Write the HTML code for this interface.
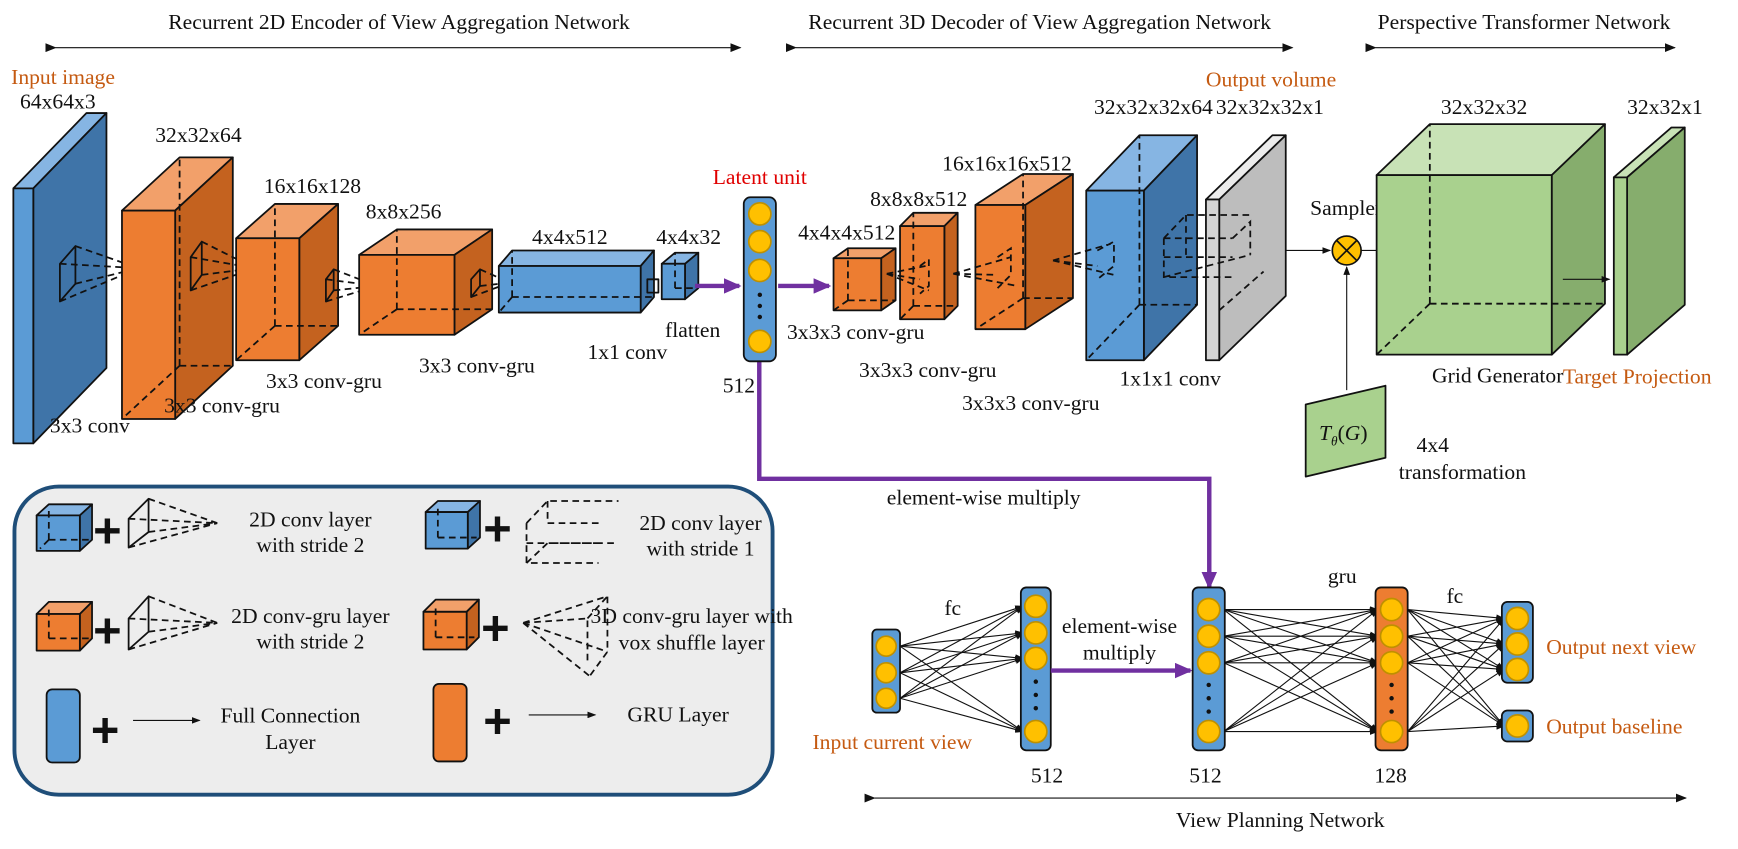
<!DOCTYPE html>
<html><head><meta charset="utf-8"><style>
html,body{margin:0;padding:0;background:#fff;}
svg{display:block;}
text{font-family:"Liberation Serif",serif;font-size:19.5px;fill:#111;}
.or{fill:#c55a11;}
.pl{font-family:"Liberation Sans",sans-serif;font-size:44px;font-weight:bold;}
.bf{fill:#5b9bd5}.bt{fill:#86b5e3}.bs{fill:#3f74a8}
.of{fill:#ed7d31}.ot{fill:#f2a06a}.os{fill:#c4621f}
.gf{fill:#a9d18e}.gt{fill:#c8e2b6}.gs{fill:#86ad6d}
.cf{fill:#d4d4d4}.ct{fill:#ececec}.cs{fill:#bdbdbd}
.ed{stroke:#111;stroke-width:1.6;stroke-linejoin:round}
.dh{stroke:#111;stroke-width:1.6;stroke-dasharray:6 4;fill:none}
.ln{stroke:#111;stroke-width:1;fill:none}
.nd{fill:#ffc000;stroke:#bf9000;stroke-width:1.5}
</style></head><body>
<svg width="1738" height="849" viewBox="0 0 1568 766" xmlns="http://www.w3.org/2000/svg">
<defs>
<marker id="ah" markerWidth="10" markerHeight="8" refX="9" refY="4" orient="auto" markerUnits="userSpaceOnUse"><path d="M0,0 L10,4 L0,8 z" fill="#111"/></marker>
<marker id="ap" markerWidth="16" markerHeight="14" refX="14" refY="7" orient="auto" markerUnits="userSpaceOnUse"><path d="M0,0 L16,7 L0,14 z" fill="#7030a0"/></marker>
<marker id="as" markerWidth="8" markerHeight="6" refX="7" refY="3" orient="auto" markerUnits="userSpaceOnUse"><path d="M0,0 L8,3 L0,6 z" fill="#111"/></marker>
</defs>

<text x="360" y="26" text-anchor="middle">Recurrent 2D Encoder of View Aggregation Network</text>
<line x1="50" y1="43" x2="668" y2="43" class="ln" stroke-width="2" marker-start="url(#ah)" marker-end="url(#ah)"/>
<text x="938" y="26" text-anchor="middle">Recurrent 3D Decoder of View Aggregation Network</text>
<line x1="718" y1="43" x2="1166" y2="43" class="ln" stroke-width="2" marker-start="url(#ah)" marker-end="url(#ah)"/>
<text x="1375" y="26" text-anchor="middle">Perspective Transformer Network</text>
<line x1="1241" y1="43" x2="1511" y2="43" class="ln" stroke-width="2" marker-start="url(#ah)" marker-end="url(#ah)"/>

<text x="10" y="76" class="or">Input image</text>
<text x="18" y="98">64x64x3</text>
<polygon class="bt ed" points="12,170 78,102 96,102 30,170"/>
<polygon class="bs ed" points="30,170 96,102 96,332 30,400"/>
<rect x="12" y="170" width="18" height="230" class="bf ed"/>
<polygon points="54,238 68,222 68,256 54,272" fill="none" class="ed"/>
<path d="M68,222 L125,242 M68,256 L125,242 M54,272 L125,242 M54,238 L125,242" class="dh"/>
<line x1="110" y1="242" x2="125" y2="242" class="ln" marker-end="url(#as)"/>

<text x="140" y="128">32x32x64</text>
<polygon class="ot ed" points="110,190 162,142 210,142 158,190"/>
<polygon class="os ed" points="158,190 210,142 210,330 158,378"/>
<rect x="110" y="190" width="48" height="188" class="of ed"/>
<path d="M162,330 L162,142 M162,330 L210,330 M162,330 L110,378" class="dh"/>
<polygon points="172,232 182,218 182,248 172,262" fill="none" class="ed"/>
<path d="M182,218 L230,242 M182,248 L230,242 M172,262 L230,242 M172,232 L230,242" class="dh"/>

<text x="238" y="174">16x16x128</text>
<polygon class="ot ed" points="213,215 248,184 305,184 270,215"/>
<polygon class="os ed" points="270,215 305,184 305,294 270,325"/>
<rect x="213" y="215" width="57" height="110" class="of ed"/>
<path d="M248,294 L248,184 M248,294 L305,294 M248,294 L213,325" class="dh"/>
<polygon points="294,252 301,243 301,262 294,272" fill="none" class="ed"/>
<path d="M301,243 L340,258 M301,262 L340,258 M294,272 L340,258 M294,252 L340,258" class="dh"/>

<text x="330" y="197">8x8x256</text>
<polygon class="ot ed" points="324,230 358,207 444,207 410,230"/>
<polygon class="os ed" points="410,230 444,207 444,279 410,302"/>
<rect x="324" y="230" width="86" height="72" class="of ed"/>
<path d="M358,279 L358,207 M358,279 L444,279 M358,279 L324,302" class="dh"/>
<polygon points="425,252 433,243 433,258 425,268" fill="none" class="ed"/>
<path d="M433,243 L460,255 M433,258 L460,255 M425,268 L460,255" class="dh"/>

<text x="480" y="220">4x4x512</text>
<polygon class="bt ed" points="450,240 462,226 590,226 578,240"/>
<polygon class="bs ed" points="578,240 590,226 590,268 578,282"/>
<rect x="450" y="240" width="128" height="42" class="bf ed"/>
<path d="M462,268 L462,226 M462,268 L590,268 M462,268 L450,282" class="dh"/>
<rect x="584" y="252" width="10" height="12" fill="none" class="ed"/>

<text x="592" y="220">4x4x32</text>
<polygon class="bt ed" points="597,238 609,228 630,228 618,238"/>
<polygon class="bs ed" points="618,238 630,228 630,260 618,270"/>
<rect x="597" y="238" width="21" height="32" class="bf ed"/>
<path d="M609,260 L609,228 M609,260 L630,260" class="dh"/>

<text x="600" y="304">flatten</text>
<text x="530" y="324">1x1 conv</text>
<text x="378" y="336">3x3 conv-gru</text>
<text x="240" y="350">3x3 conv-gru</text>
<text x="148" y="372">3x3 conv-gru</text>
<text x="45" y="390">3x3 conv</text>

<line x1="627" y1="258" x2="667" y2="258" stroke="#7030a0" stroke-width="4" marker-end="url(#ap)"/>
<line x1="702" y1="258" x2="748" y2="258" stroke="#7030a0" stroke-width="4" marker-end="url(#ap)"/>
<polyline points="685,325 685,432 1091,432 1091,530" fill="none" stroke="#7030a0" stroke-width="4" marker-end="url(#ap)"/>

<text x="643" y="166" style="fill:#e00000">Latent unit</text>
<rect x="671" y="178" width="29" height="148" rx="6" class="bf ed"/>
<circle cx="685.5" cy="193" r="10" class="nd"/>
<circle cx="685.5" cy="218" r="10" class="nd"/>
<circle cx="685.5" cy="244" r="10" class="nd"/>
<circle cx="685.5" cy="266" r="2" fill="#111"/><circle cx="685.5" cy="276" r="2" fill="#111"/><circle cx="685.5" cy="286" r="2" fill="#111"/>
<circle cx="685.5" cy="308" r="10" class="nd"/>
<text x="652" y="354">512</text>

<text x="720" y="216">4x4x4x512</text>
<polygon class="ot ed" points="752,233 765,224 808,224 795,233"/>
<polygon class="os ed" points="795,233 808,224 808,271 795,280"/>
<rect x="752" y="233" width="43" height="47" class="of ed"/>
<path d="M765,271 L765,224 M765,271 L808,271 M765,271 L752,280" class="dh"/>

<text x="785" y="186">8x8x8x512</text>
<polygon class="ot ed" points="812,204 824,192 864,192 852,204"/>
<polygon class="os ed" points="852,204 864,192 864,276 852,288"/>
<rect x="812" y="204" width="40" height="84" class="of ed"/>
<path d="M824,276 L824,192 M824,276 L864,276 M824,276 L812,288" class="dh"/>
<path d="M800,247 L835,240 M800,247 L838,262 M800,247 L830,252 M830,240 L838,234 L838,258 L830,265" class="dh"/>

<text x="850" y="154">16x16x16x512</text>
<polygon class="ot ed" points="880,185 923,157 968,157 925,185"/>
<polygon class="os ed" points="925,185 968,157 968,269 925,297"/>
<rect x="880" y="185" width="45" height="112" class="of ed"/>
<path d="M923,269 L923,157 M923,269 L968,269 M923,269 L880,297" class="dh"/>
<path d="M860,247 L912,232 M860,247 L918,258 M860,247 L900,248 M900,232 L912,224 L912,248 L900,260" class="dh"/>

<text x="987" y="103">32x32x32x64</text>
<polygon class="bt ed" points="980,172 1028,122 1080,122 1032,172"/>
<polygon class="bs ed" points="1032,172 1080,122 1080,275 1032,325"/>
<rect x="980" y="172" width="52" height="153" class="bf ed"/>
<path d="M1028,275 L1028,122 M1028,275 L1080,275 M1028,275 L980,325" class="dh"/>
<path d="M950,235 L1002,220 M950,235 L1005,248 M950,235 L990,240 M990,226 L1005,218 L1005,240 L990,252" class="dh"/>

<text x="1088" y="78" class="or">Output volume</text>
<text x="1097" y="103">32x32x32x1</text>
<polygon class="ct ed" points="1088,180 1148,122 1160,122 1100,180"/>
<polygon class="cs ed" points="1100,180 1160,122 1160,267 1100,325"/>
<rect x="1088" y="180" width="12" height="145" class="cf ed"/>
<path d="M1050,215 L1070,194 L1128,194 M1050,215 L1050,250 L1112,250 M1050,232 L1112,232 M1070,194 L1070,232 M1050,250 L1128,230 M1112,215 L1128,200 L1128,230 M1050,215 L1112,215" class="dh"/>
<path d="M1100,280 L1140,245" class="dh"/>
<text x="1010" y="348">1x1x1 conv</text>
<text x="775" y="340">3x3x3 conv-gru</text>
<text x="710" y="306">3x3x3 conv-gru</text>
<text x="868" y="370">3x3x3 conv-gru</text>

<text x="1182" y="194">Sampler</text>
<line x1="1160" y1="226" x2="1200" y2="226" class="ln" marker-end="url(#as)"/>
<circle cx="1215" cy="226" r="13" fill="#ffc000" stroke="#111" stroke-width="1.5"/>
<path d="M1206,217 L1224,235 M1224,217 L1206,235" stroke="#111" stroke-width="1.5"/>
<line x1="1228" y1="226" x2="1258" y2="226" class="ln" marker-end="url(#as)"/>
<line x1="1215" y1="352" x2="1215" y2="241" class="ln" marker-end="url(#as)"/>
<polygon points="1178,365 1250,348 1250,413 1178,430" class="gf ed" stroke-width="1"/>
<text x="1190" y="397" font-style="italic">T<tspan style="font-size:12px" dy="5">θ</tspan><tspan dy="-5" font-style="normal">(</tspan>G<tspan font-style="normal">)</tspan></text>
<text x="1278" y="408">4x4</text>
<text x="1262" y="432">transformation</text>

<text x="1300" y="103">32x32x32</text>
<polygon class="gt ed" points="1242,158 1290,112 1448,112 1400,158"/>
<polygon class="gs ed" points="1400,158 1448,112 1448,274 1400,320"/>
<rect x="1242" y="158" width="158" height="162" class="gf ed"/>
<path d="M1290,274 L1290,112 M1290,274 L1448,274 M1290,274 L1242,320" class="dh"/>
<line x1="1410" y1="252" x2="1452" y2="252" class="ln" marker-end="url(#as)"/>
<text x="1468" y="103">32x32x1</text>
<polygon class="gt ed" points="1456,160 1508,115 1520,115 1468,160"/>
<polygon class="gs ed" points="1468,160 1520,115 1520,275 1468,320"/>
<rect x="1456" y="160" width="12" height="160" class="gf ed"/>
<text x="1292" y="345">Grid Generator</text>
<text x="1410" y="346" class="or">Target Projection</text>

<rect x="13" y="439" width="684" height="278" rx="40" fill="#ededed" stroke="#1f4e79" stroke-width="3.5"/>
<polygon class="bt ed" points="33,465 44,455 83,455 72,465"/><polygon class="bs ed" points="72,465 83,455 83,487 72,497"/><rect x="33" y="465" width="39" height="32" class="bf ed"/>
<path d="M44,487 L44,458 M44,487 L80,487 M44,487 L36,495" class="dh"/>
<text x="84" y="494" class="pl">+</text>
<polygon points="116,468 134,450 134,480 116,494" fill="none" class="ed"/>
<path d="M134,450 L196,472 M134,480 L196,472 M116,494 L196,472 M116,468 L196,472" class="dh"/>
<text x="280" y="475" text-anchor="middle">2D conv layer</text>
<text x="280" y="498" text-anchor="middle">with stride 2</text>
<polygon class="bt ed" points="384,462 395,452 433,452 422,462"/><polygon class="bs ed" points="422,462 433,452 433,485 422,495"/><rect x="384" y="462" width="38" height="33" class="bf ed"/>
<path d="M395,485 L395,455 M395,485 L430,485" class="dh"/>
<text x="436" y="492" class="pl">+</text>
<path d="M475,472 L494,452 L558,452 M475,472 L475,508 L540,508 M475,490 L541,490 M494,452 L494,472 L541,472 M475,508 L494,490 L556,490" class="dh"/>
<text x="632" y="478" text-anchor="middle">2D conv layer</text>
<text x="632" y="501" text-anchor="middle">with stride 1</text>
<polygon class="ot ed" points="33,554 44,543 83,543 72,554"/><polygon class="os ed" points="72,554 83,543 83,576 72,587"/><rect x="33" y="554" width="39" height="33" class="of ed"/>
<path d="M44,576 L44,546 M44,576 L80,576" class="dh"/>
<text x="84" y="584" class="pl">+</text>
<polygon points="116,558 134,538 134,570 116,586" fill="none" class="ed"/>
<path d="M134,538 L196,562 M134,570 L196,562 M116,586 L196,562 M116,558 L196,562" class="dh"/>
<text x="280" y="562" text-anchor="middle">2D conv-gru layer</text>
<text x="280" y="585" text-anchor="middle">with stride 2</text>
<polygon class="ot ed" points="382,552 393,541 432,541 421,552"/><polygon class="os ed" points="421,552 432,541 432,575 421,586"/><rect x="382" y="552" width="39" height="34" class="of ed"/>
<path d="M393,575 L393,545 M393,575 L428,575" class="dh"/>
<text x="434" y="582" class="pl">+</text>
<path d="M472,562 L548,538 L548,588 L532,610 M472,562 L532,610 M472,562 L548,588 M472,562 L530,558 L530,598 M530,558 L548,538" class="dh"/>
<text x="624" y="562" text-anchor="middle">3D conv-gru layer with</text>
<text x="624" y="586" text-anchor="middle">vox shuffle layer</text>
<rect x="42" y="622" width="30" height="66" rx="5" class="bf ed"/>
<text x="82" y="674" class="pl">+</text>
<line x1="120" y1="650" x2="180" y2="650" class="ln" marker-end="url(#as)"/>
<text x="262" y="652" text-anchor="middle">Full Connection</text>
<text x="262" y="676" text-anchor="middle">Layer</text>
<rect x="391" y="617" width="30" height="70" rx="5" class="of ed"/>
<text x="436" y="666" class="pl">+</text>
<line x1="477" y1="645" x2="537" y2="645" class="ln" marker-end="url(#as)"/>
<text x="566" y="651">GRU Layer</text>

<text x="800" y="455">element-wise multiply</text>
<g class="ln" marker-end="url(#as)">
<line x1="812" y1="583" x2="923" y2="547"/><line x1="812" y1="583" x2="923" y2="571"/><line x1="812" y1="583" x2="923" y2="594"/><line x1="812" y1="583" x2="923" y2="660"/>
<line x1="812" y1="607" x2="923" y2="547"/><line x1="812" y1="607" x2="923" y2="571"/><line x1="812" y1="607" x2="923" y2="594"/><line x1="812" y1="607" x2="923" y2="660"/>
<line x1="812" y1="630" x2="923" y2="547"/><line x1="812" y1="630" x2="923" y2="571"/><line x1="812" y1="630" x2="923" y2="594"/><line x1="812" y1="630" x2="923" y2="660"/>
</g>
<g class="ln" marker-end="url(#as)">
<line x1="1104" y1="550" x2="1243" y2="550"/><line x1="1104" y1="550" x2="1243" y2="574"/><line x1="1104" y1="550" x2="1243" y2="598"/><line x1="1104" y1="550" x2="1243" y2="660"/>
<line x1="1104" y1="574" x2="1243" y2="550"/><line x1="1104" y1="574" x2="1243" y2="574"/><line x1="1104" y1="574" x2="1243" y2="598"/><line x1="1104" y1="574" x2="1243" y2="660"/>
<line x1="1104" y1="598" x2="1243" y2="550"/><line x1="1104" y1="598" x2="1243" y2="574"/><line x1="1104" y1="598" x2="1243" y2="598"/><line x1="1104" y1="598" x2="1243" y2="660"/>
<line x1="1104" y1="660" x2="1243" y2="550"/><line x1="1104" y1="660" x2="1243" y2="574"/><line x1="1104" y1="660" x2="1243" y2="598"/><line x1="1104" y1="660" x2="1243" y2="660"/>
</g>
<g class="ln" marker-end="url(#as)">
<line x1="1270" y1="550" x2="1357" y2="558"/><line x1="1270" y1="550" x2="1357" y2="581"/><line x1="1270" y1="550" x2="1357" y2="604"/><line x1="1270" y1="550" x2="1357" y2="655"/>
<line x1="1270" y1="574" x2="1357" y2="558"/><line x1="1270" y1="574" x2="1357" y2="581"/><line x1="1270" y1="574" x2="1357" y2="604"/><line x1="1270" y1="574" x2="1357" y2="655"/>
<line x1="1270" y1="598" x2="1357" y2="558"/><line x1="1270" y1="598" x2="1357" y2="581"/><line x1="1270" y1="598" x2="1357" y2="604"/><line x1="1270" y1="598" x2="1357" y2="655"/>
<line x1="1270" y1="660" x2="1357" y2="558"/><line x1="1270" y1="660" x2="1357" y2="581"/><line x1="1270" y1="660" x2="1357" y2="604"/><line x1="1270" y1="660" x2="1357" y2="655"/>
</g>
<rect x="787" y="568" width="25" height="75" rx="4" class="bf ed"/>
<circle cx="799.5" cy="583" r="9" class="nd"/><circle cx="799.5" cy="607" r="9" class="nd"/><circle cx="799.5" cy="630" r="9" class="nd"/>
<text x="733" y="676" class="or">Input current view</text>
<text x="852" y="555">fc</text>
<rect x="921" y="530" width="27" height="147" rx="5" class="bf ed"/>
<circle cx="934.5" cy="547" r="10" class="nd"/><circle cx="934.5" cy="571" r="10" class="nd"/><circle cx="934.5" cy="594" r="10" class="nd"/>
<circle cx="934.5" cy="615" r="2" fill="#111"/><circle cx="934.5" cy="627" r="2" fill="#111"/><circle cx="934.5" cy="639" r="2" fill="#111"/>
<circle cx="934.5" cy="660" r="10" class="nd"/>
<text x="930" y="706">512</text>
<text x="958" y="571">element-wise</text>
<text x="977" y="595">multiply</text>
<line x1="948" y1="605" x2="1074" y2="605" stroke="#7030a0" stroke-width="4" marker-end="url(#ap)"/>
<rect x="1076" y="530" width="29" height="147" rx="5" class="bf ed"/>
<circle cx="1090.5" cy="550" r="10" class="nd"/><circle cx="1090.5" cy="574" r="10" class="nd"/><circle cx="1090.5" cy="598" r="10" class="nd"/>
<circle cx="1090.5" cy="618" r="2" fill="#111"/><circle cx="1090.5" cy="630" r="2" fill="#111"/><circle cx="1090.5" cy="642" r="2" fill="#111"/>
<circle cx="1090.5" cy="660" r="10" class="nd"/>
<text x="1073" y="706">512</text>
<text x="1198" y="526">gru</text>
<rect x="1241" y="530" width="29" height="147" rx="5" class="of ed"/>
<circle cx="1255.5" cy="550" r="10" class="nd"/><circle cx="1255.5" cy="574" r="10" class="nd"/><circle cx="1255.5" cy="598" r="10" class="nd"/>
<circle cx="1255.5" cy="618" r="2" fill="#111"/><circle cx="1255.5" cy="630" r="2" fill="#111"/><circle cx="1255.5" cy="642" r="2" fill="#111"/>
<circle cx="1255.5" cy="660" r="10" class="nd"/>
<text x="1240" y="706">128</text>
<text x="1305" y="544">fc</text>
<rect x="1355" y="543" width="28" height="73" rx="5" class="bf ed"/>
<circle cx="1369" cy="558" r="10" class="nd"/><circle cx="1369" cy="581" r="10" class="nd"/><circle cx="1369" cy="604" r="10" class="nd"/>
<text x="1395" y="590" class="or">Output next view</text>
<rect x="1355" y="641" width="28" height="28" rx="5" class="bf ed"/>
<circle cx="1369" cy="655" r="10" class="nd"/>
<text x="1395" y="662" class="or">Output baseline</text>
<line x1="789" y1="720" x2="1521" y2="720" class="ln" stroke-width="2" marker-start="url(#ah)" marker-end="url(#ah)"/>
<text x="1155" y="746" text-anchor="middle">View Planning Network</text>
</svg>
</body></html>
